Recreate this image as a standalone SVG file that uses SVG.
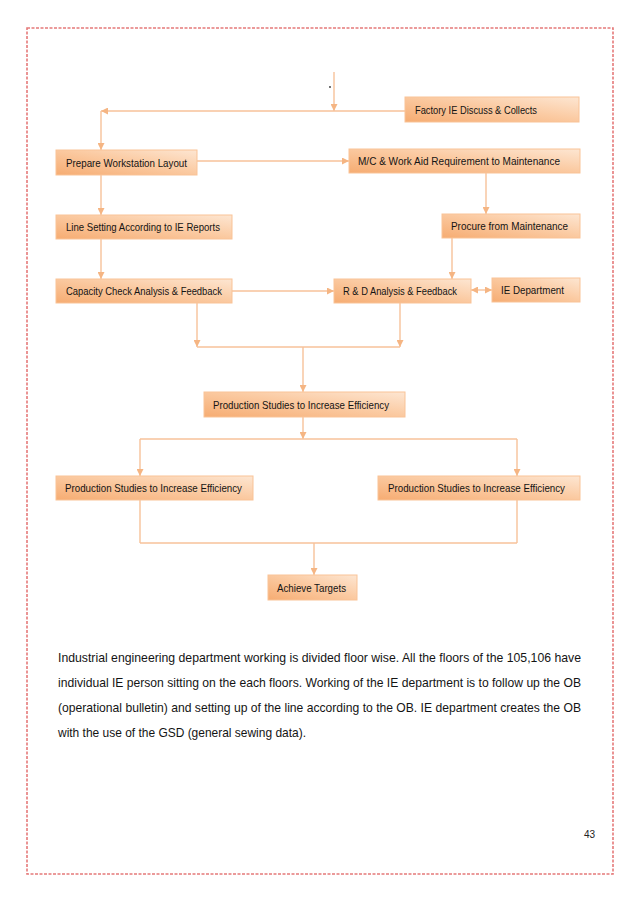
<svg xmlns="http://www.w3.org/2000/svg" width="638" height="902" viewBox="0 0 638 902">
<style>
.box{fill:url(#g);stroke:#f9c397;stroke-width:1}
.lbl{font-family:"Liberation Sans",Arial,sans-serif;font-size:11px;fill:#141414}
.con{fill:none;stroke:#f7c29a;stroke-width:1.4}
.para{font-family:"Liberation Sans",Arial,sans-serif;font-size:13px;fill:#141414}
</style>
<defs>
<linearGradient id="g" x1="0" y1="1" x2="1" y2="0">
<stop offset="0" stop-color="#f6ac72"/>
<stop offset="0.55" stop-color="#fbcba3"/>
<stop offset="1" stop-color="#fde6d2"/>
</linearGradient>
<marker id="a" viewBox="0 0 10 10" refX="10" refY="5" markerWidth="7" markerHeight="7" markerUnits="userSpaceOnUse" orient="auto-start-reverse">
<path d="M0,0 L10,5 L0,10 z" fill="#f5b583"/>
</marker>
</defs>
<rect x="27" y="28" width="586" height="846" fill="none" stroke="#e57a7a" stroke-width="1.6" stroke-dasharray="3 1.5"/>
<g id="connectors">
<path class="con" d="M334,72 V111" marker-end="url(#a)"/>
<path class="con" d="M405,111 H101" marker-end="url(#a)"/>
<path class="con" d="M101,111 V150" marker-end="url(#a)"/>
<path class="con" d="M197,161 H349" marker-end="url(#a)"/>
<path class="con" d="M101,175 V215" marker-end="url(#a)"/>
<path class="con" d="M101,239 V279" marker-end="url(#a)"/>
<path class="con" d="M486,173 V214" marker-end="url(#a)"/>
<path class="con" d="M452,238 V279" marker-end="url(#a)"/>
<path class="con" d="M232,291 H334" marker-end="url(#a)"/>
<path class="con" d="M471,290 H492" marker-start="url(#a)" marker-end="url(#a)"/>
<path class="con" d="M197,303 V347" marker-end="url(#a)"/>
<path class="con" d="M400,303 V347" marker-end="url(#a)"/>
<path class="con" d="M197,347 H400"/>
<path class="con" d="M303,347 V392" marker-end="url(#a)"/>
<path class="con" d="M303,417 V439" marker-end="url(#a)"/>
<path class="con" d="M140,439 H517"/>
<path class="con" d="M140,439 V476" marker-end="url(#a)"/>
<path class="con" d="M517,439 V476" marker-end="url(#a)"/>
<path class="con" d="M140,500 V543 M517,500 V543 M140,543 H517"/>
<path class="con" d="M314,543 V575" marker-end="url(#a)"/>
</g>
<circle cx="330" cy="87" r="0.9" fill="#333"/>
<g id="factory"><rect class="box" x="405" y="97" width="174" height="25"/><text class="lbl" x="415" y="113.5" textLength="122" lengthAdjust="spacingAndGlyphs">Factory IE Discuss &amp; Collects</text></g>
<g id="prepare"><rect class="box" x="56" y="150" width="141" height="25"/><text class="lbl" x="66" y="166.5" textLength="121" lengthAdjust="spacingAndGlyphs">Prepare Workstation Layout</text></g>
<g id="mc"><rect class="box" x="349" y="149" width="231" height="24"/><text class="lbl" x="358" y="165" textLength="202" lengthAdjust="spacingAndGlyphs">M/C &amp; Work Aid Requirement to Maintenance</text></g>
<g id="line"><rect class="box" x="56" y="215" width="176" height="24"/><text class="lbl" x="66" y="231" textLength="154" lengthAdjust="spacingAndGlyphs">Line Setting According to IE Reports</text></g>
<g id="procure"><rect class="box" x="442" y="214" width="138" height="24"/><text class="lbl" x="451" y="230" textLength="117" lengthAdjust="spacingAndGlyphs">Procure from Maintenance</text></g>
<g id="capacity"><rect class="box" x="56" y="279" width="176" height="24"/><text class="lbl" x="66" y="295" textLength="156" lengthAdjust="spacingAndGlyphs">Capacity Check Analysis &amp; Feedback</text></g>
<g id="rd"><rect class="box" x="334" y="279" width="137" height="24"/><text class="lbl" x="343" y="295" textLength="114" lengthAdjust="spacingAndGlyphs">R &amp; D Analysis &amp; Feedback</text></g>
<g id="ie"><rect class="box" x="492" y="278" width="88" height="24"/><text class="lbl" x="501" y="294" textLength="63" lengthAdjust="spacingAndGlyphs">IE Department</text></g>
<g id="prod-mid"><rect class="box" x="204" y="392" width="201" height="25"/><text class="lbl" x="213" y="408.5" textLength="176" lengthAdjust="spacingAndGlyphs">Production Studies to Increase Efficiency</text></g>
<g id="prod-left"><rect class="box" x="56" y="476" width="197" height="24"/><text class="lbl" x="65" y="492" textLength="177" lengthAdjust="spacingAndGlyphs">Production Studies to Increase Efficiency</text></g>
<g id="prod-right"><rect class="box" x="378" y="476" width="202" height="24"/><text class="lbl" x="388" y="492" textLength="177" lengthAdjust="spacingAndGlyphs">Production Studies to Increase Efficiency</text></g>
<g id="achieve"><rect class="box" x="268" y="575" width="89" height="25"/><text class="lbl" x="277" y="591.5" textLength="69" lengthAdjust="spacingAndGlyphs">Achieve Targets</text></g>
<text class="para" x="58" y="662" textLength="523" lengthAdjust="spacingAndGlyphs">Industrial engineering department working is divided floor wise. All the floors of the 105,106 have</text>
<text class="para" x="58" y="687" textLength="523" lengthAdjust="spacingAndGlyphs">individual IE person sitting on the each floors. Working of the IE department is to follow up the OB</text>
<text class="para" x="58" y="712" textLength="523" lengthAdjust="spacingAndGlyphs">(operational bulletin) and setting up of the line according to the OB. IE department creates the OB</text>
<text class="para" x="58" y="737" textLength="248" lengthAdjust="spacingAndGlyphs">with the use of the GSD (general sewing data).</text>
<text x="584" y="838" font-family="Liberation Sans,Arial,sans-serif" font-size="10" fill="#222">43</text>
</svg>
